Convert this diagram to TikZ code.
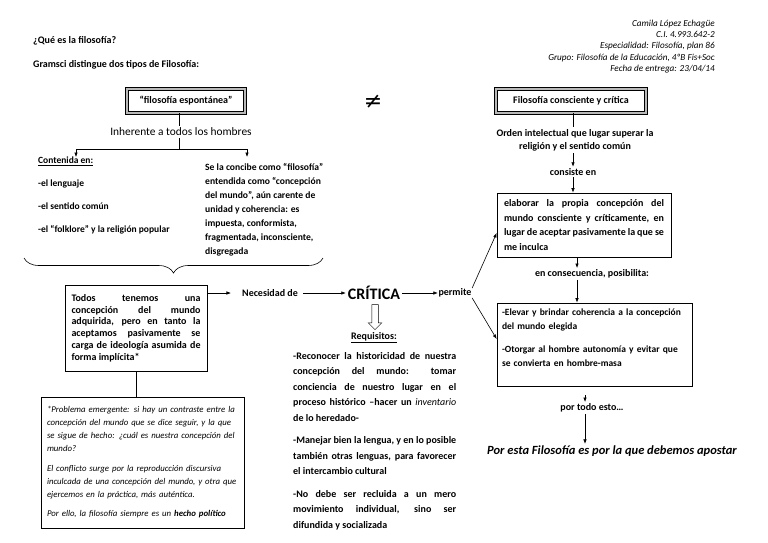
\documentclass[tikz,border=0pt]{standalone}
\usepackage{fontspec}
\setmainfont{Carlito}
\newfontfamily\symfont{DejaVu Sans}
\usetikzlibrary{arrows.meta,positioning,calc,shapes.arrows,decorations.pathreplacing}
\setlength{\parindent}{0pt}
\setlength{\parskip}{0pt}
\hyphenpenalty=10000
\exhyphenpenalty=10000

\begin{document}
\begin{tikzpicture}[x=1pt, y=-1pt, font=\fontsize{10}{14.5}\selectfont\bfseries,
  arr/.style={-{Latex[length=4.5pt,width=3.5pt]}, line width=0.6pt},
  twinbox/.style={draw, line width=0.9pt, double=gray!55, double distance=1.8pt, inner sep=0pt},
  plainbox/.style={draw, line width=0.7pt, inner xsep=6.5pt, inner ysep=4pt},
  lbl/.style={inner sep=1.5pt}]
\useasboundingbox (0,0) rectangle (768,543);

% Header
\node[anchor=base west, inner sep=0] (que) at (33,44) {¿Qué es la filosofía?};
\node[anchor=base west, inner sep=0] (gram) at (33,67) {Gramsci distingue dos tipos de Filosofía:};
\node[anchor=north east, align=right, inner sep=0, font=\fontsize{9.2}{11.2}\selectfont\itshape] (autor) at (715,20) {Camila López Echagüe\\C.I. 4.993.642-2\\Especialidad: Filosofía, plan 86\\Grupo: Filosofía de la Educación, 4ºB Fis+Soc\\Fecha de entrega: 23/04/14};

% The two kinds
\node[twinbox, minimum width=118, minimum height=24] (esp) at (186,101) {“filosofía espontánea”};
\node[font=\fontsize{22}{22}\selectfont\symfont] (neq) at (373,102) {≠};
\node[twinbox, minimum width=150, minimum height=24] (fcc) at (571,101) {Filosofía consciente y crítica};

% Left branch
\node[font=\fontsize{11.4}{14}\selectfont, inner sep=2pt] (inh) at (181,132) {Inherente a todos los hombres};
\coordinate (fork) at (179,149);
\coordinate (tipL) at (76,157);
\coordinate (tipR) at (247,157);
\draw[line width=0.6pt] (esp.south -| fork) -- (inh.north -| fork);
\draw[line width=0.6pt] (inh.south -| fork) -- (fork);
\draw[arr] (fork) -| (tipL);
\draw[arr] (fork) -| (tipR);

\node[anchor=north west, align=left, inner sep=0, font=\fontsize{9.5}{23}\selectfont\bfseries] (cont) at (38,157) {\underline{Contenida en:}\\-el lenguaje\\-el sentido común\\-el “folklore” y la religión popular};
\node[anchor=north west, align=left, inner sep=0, font=\fontsize{9.6}{14}\selectfont\bfseries] (conc) at (205,163) {Se la concibe como “filosofía”\\entendida como “concepción\\del mundo”, aún carente de\\unidad y coherencia: es\\impuesta, conformista,\\fragmentada, inconsciente,\\disgregada};

% Brace
\coordinate (brL) at (24,258);
\coordinate (brR) at (323,258);
\draw[decorate, decoration={brace, mirror, amplitude=15pt}, line width=0.6pt] (brL) -- (brR);

% Lower left boxes
\node[plainbox, text width=129, minimum height=86, align=justify, font=\fontsize{10}{11.8}\selectfont\bfseries] (todos) at (136,328) {Todos tenemos una\linebreak concepción del mundo\linebreak adquirida, pero en tanto la\linebreak aceptamos pasivamente se\linebreak carga de ideología asumida de\linebreak forma implícita*};
\node[plainbox, text width=191, minimum height=131, inner xsep=6pt, align=left, font=\fontsize{8.8}{13}\selectfont\itshape] (prob) at (142.5,462.5) {*Problema emergente: si hay un contraste entre la\\concepción del mundo que se dice seguir, y la que\\se sigue de hecho: ¿cuál es nuestra concepción del\\mundo?\\[7pt]El conflicto surge por la reproducción discursiva\\inculcada de una concepción del mundo, y otra que\\ejercemos en la práctica, más auténtica.\\[6pt]Por ello, la filosofía siempre es un \textbf{hecho político}};
\draw[line width=0.6pt] (todos.south) -- (todos.south |- prob.north);

% Middle line
\node[lbl, inner xsep=5pt] (nec) at (270,293) {Necesidad de};
\node[font=\fontsize{16}{16}\selectfont\bfseries, inner sep=2pt] (crit) at (374,293) {CRÍTICA};
\node[lbl, inner sep=0.5pt] (perm) at (455,293) {permite};
\draw[arr, shorten >=6pt] (todos.east |- nec) -- (nec);
\draw[arr] (nec) -- (crit);
\draw[arr] (crit) -- (perm);

\node[single arrow, draw, line width=0.5pt, fill=white, shape border rotate=270, minimum height=25, minimum width=13, single arrow head extend=3.5pt, inner sep=3pt] (hollow) at (375,315.5) {};
\node[font=\fontsize{10}{12}\selectfont\bfseries] (req) at (374,338) {\underline{Requisitos:}};
\node[anchor=north west, text width=163, align=justify, inner sep=0, font=\fontsize{10}{15.5}\selectfont\bfseries] (reqs) at (293,352) {-Reconocer la historicidad de nuestra\linebreak concepción del mundo: tomar\linebreak conciencia de nuestro lugar en el\linebreak proceso histórico –hacer un {\mdseries\itshape inventario}\linebreak de lo heredado-\par\vspace{7pt}-Manejar bien la lengua, y en lo posible\linebreak también otras lenguas, para favorecer\linebreak el intercambio cultural\par\vspace{7pt}-No debe ser recluida a un mero\linebreak movimiento individual, sino ser\linebreak difundida y socializada\par};

% Right branch
\coordinate (colA) at (573,0);
\coordinate (colB) at (577,0);
\coordinate (colC) at (585,0);
\node[align=center, inner sep=2pt, font=\fontsize{10}{13}\selectfont\bfseries] (orden) at (575,140) {Orden intelectual que lugar superar la\\religión y el sentido común};
\node[lbl] (cons) at (573,172) {consiste en};
\node[plainbox, text width=160, minimum height=64, inner xsep=7pt, align=justify] (elab) at (584,225) {elaborar la propia concepción del\linebreak mundo consciente y críticamente, en\linebreak lugar de aceptar pasivamente la que se\linebreak me inculca};
\node[lbl] (posib) at (592,274) {en consecuencia, posibilita:};
\node[plainbox, text width=185, minimum height=83, inner xsep=5pt, align=left, font=\fontsize{9.5}{14}\selectfont\bfseries] (elev) at (594.5,344.5) {-Elevar y brindar coherencia a la concepción\\del mundo elegida\\[9pt]-Otorgar al hombre autonomía y evitar que\\se convierta en hombre-masa\\\mbox{}};
\node[lbl] (todo) at (592,408) {por todo esto…};
\node[lbl, font=\fontsize{12.5}{14}\selectfont\bfseries\itshape] (final) at (612,451) {Por esta Filosofía es por la que debemos apostar};

\draw[line width=0.6pt] (fcc.south -| colA) -- (orden.north -| colA);
\draw[arr] (orden.south -| colA) -- (cons.north -| colA);
\draw[arr] (cons.south -| colA) -- (elab.north -| colA);
\draw[arr] (elab.south -| colB) -- (posib.north -| colB);
\draw[arr] (posib.south -| colB) -- (elev.north -| colB);
\draw[arr, shorten <=9pt] (elev.south -| colC) -- (todo.north -| colC);
\draw[arr] (todo.south -| colC) -- (final.north -| colC);

% From permite
\draw[arr] (perm.north east) -- ($(elab.west)+(0,8)$);
\draw[arr] (perm.south east) -- ($(elev.west)+(0,-5.5)$);
\end{tikzpicture}
\end{document}
